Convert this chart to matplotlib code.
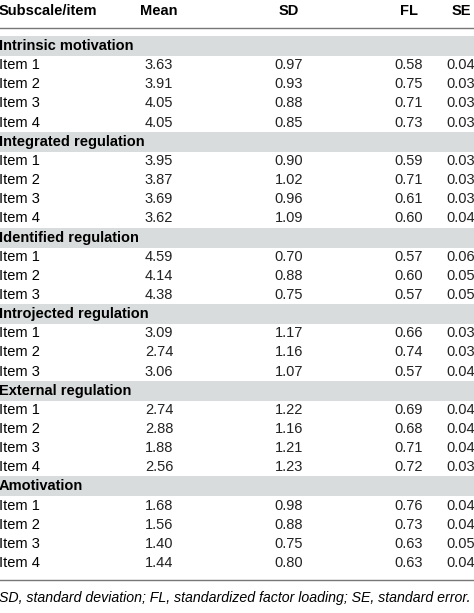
import matplotlib.pyplot as plt
from matplotlib.patches import Rectangle

plt.rcParams['font.family'] = ['Liberation Sans', 'DejaVu Sans']

headers = ["Subscale/item", "Mean", "SD", "FL", "SE"]
subscales = ["Intrinsic motivation", "Integrated regulation", "Identified regulation",
             "Introjected regulation", "External regulation", "Amotivation"]
mean = [[3.63, 3.91, 4.05, 4.05], [3.95, 3.87, 3.69, 3.62], [4.59, 4.14, 4.38],
        [3.09, 2.74, 3.06], [2.74, 2.88, 1.88, 2.56], [1.68, 1.56, 1.40, 1.44]]
sd = [[0.97, 0.93, 0.88, 0.85], [0.90, 1.02, 0.96, 1.09], [0.70, 0.88, 0.75],
      [1.17, 1.16, 1.07], [1.22, 1.16, 1.21, 1.23], [0.98, 0.88, 0.75, 0.80]]
fl = [[0.58, 0.75, 0.71, 0.73], [0.59, 0.71, 0.61, 0.60], [0.57, 0.60, 0.57],
      [0.66, 0.74, 0.57], [0.69, 0.68, 0.71, 0.72], [0.76, 0.73, 0.63, 0.63]]
se = [[0.04, 0.03, 0.03, 0.03], [0.03, 0.03, 0.03, 0.04], [0.06, 0.05, 0.05],
      [0.03, 0.03, 0.04], [0.04, 0.04, 0.04, 0.03], [0.04, 0.04, 0.05, 0.04]]
footnote = "SD, standard deviation; FL, standardized factor loading; SE, standard error."

W, H = 474, 613
fig = plt.figure(figsize=(W / 100, H / 100), dpi=100)
ax = fig.add_axes([0, 0, 1, 1])
ax.set_xlim(0, W)
ax.set_ylim(H, 0)
ax.axis('off')

col_x = [-1, 159, 289, 409, 461]
fs = 10.5

for i, h in enumerate(headers):
    ax.text(col_x[i], 11, h, fontsize=fs, fontweight='bold', va='center',
            ha='left' if i == 0 else 'center')
ax.plot([0, W], [28, 28], color='#777777', lw=1)

y = 46
step = 19.15
for s, name in enumerate(subscales):
    ax.add_patch(Rectangle((0, y - 10), W, 20, color='#d9dcdc', lw=0))
    ax.text(col_x[0], y, name, fontsize=fs, fontweight='bold', va='center')
    y += step
    for k in range(len(mean[s])):
        ax.text(col_x[0], y, f"Item {k + 1}", fontsize=fs, va='center')
        vals = [mean[s][k], sd[s][k], fl[s][k], se[s][k]]
        for j, v in enumerate(vals):
            ax.text(col_x[j + 1], y, f"{v:.2f}", fontsize=fs, va='center', ha='center',
                    color='#222222')
        y += step

ax.plot([0, W], [580, 580], color='#777777', lw=1)
ax.text(-1, 598, footnote, fontsize=fs - 0.3, style='italic', va='center')

fig.savefig("out.png", dpi=100)
